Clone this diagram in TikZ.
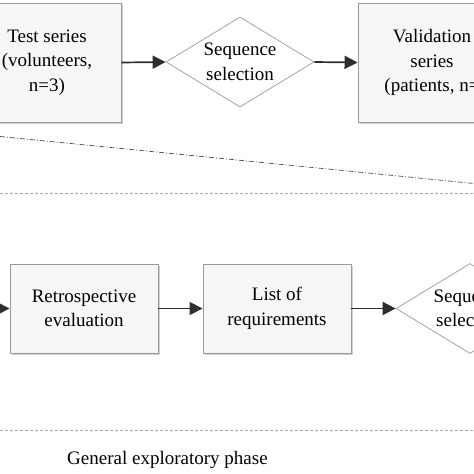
\documentclass[tikz,border=0pt]{standalone}
\usepackage{fontspec}
\setmainfont{Liberation Serif}
\usetikzlibrary{shapes.geometric,arrows.meta,shadows}
\definecolor{boxfill}{HTML}{F6F6F6}
\definecolor{boxline}{HTML}{9A9A9A}
\definecolor{arrowc}{HTML}{2E2E2E}
\definecolor{sepline}{HTML}{A8A8A8}
\begin{document}
\begin{tikzpicture}[x=1pt,y=-1pt,
  font=\fontsize{19}{24.5}\selectfont,
  procbox/.style={draw=boxline, line width=0.9pt, fill=boxfill, minimum width=148pt, align=center,
    drop shadow={shadow xshift=1.8pt, shadow yshift=-1.8pt, fill=black!18, opacity=1}},
  decbox/.style={diamond, draw=boxline, line width=0.7pt, fill=white, inner sep=0pt,
    minimum width=148pt, minimum height=90pt},
  lbl/.style={align=center, inner sep=0pt},
  flow/.style={draw=arrowc, line width=1.7pt, -{Triangle[length=13pt,width=13pt]}},
  phaseline/.style={draw=sepline, line width=0.8pt, dash pattern=on 3pt off 2pt},
]
\useasboundingbox (0,0) rectangle (474,474);
\clip (0,0) rectangle (474,474);

% top row
\node[procbox, minimum height=119pt] (ts) at (47,62.5) {Test series\\(volunteers,\\n=3)};
\node[decbox] (ss1) at (240,62) {};
\node[lbl] at (ss1) {Sequence\\selection};
\node[procbox, minimum height=119pt] (vs) at (432,62.5) {Validation\\series\\(patients, n=};
\draw[flow] (ts.east) -- (ss1.west);
\draw[flow] (ss1.east) -- (vs.west);

% slanted dash-dot line
\coordinate (sl1) at (0,136.5);
\coordinate (sl2) at (474,183.5);
\draw[draw=arrowc!85, line width=0.7pt, dash pattern=on 5pt off 2pt on 1pt off 2pt] (sl1) -- (sl2);

% separators
\coordinate (p1) at (0,193);
\coordinate (p2) at (474,193);
\draw[phaseline] (p1) -- (p2);
\coordinate (p3) at (0,430);
\coordinate (p4) at (474,430);
\draw[phaseline] (p3) -- (p4);

% bottom row
\coordinate (in) at (-5,308.5);
\node[procbox, minimum height=89pt] (re) at (84,308.5) {Retrospective\\evaluation};
\node[procbox, minimum height=89pt] (lr) at (277,308.5) {List of\\requirements};
\node[decbox] (ss2) at (470,308.5) {};
\node[lbl] at (ss2) {Sequence\\selection};
\draw[flow] (in) -- (re.west);
\draw[flow] (re.east) -- (lr.west);
\draw[flow] (lr.east) -- (ss2.west);

% phase label
\node[anchor=west, inner sep=0pt] (gp) at (67,460) {General exploratory phase};
\end{tikzpicture}
\end{document}
